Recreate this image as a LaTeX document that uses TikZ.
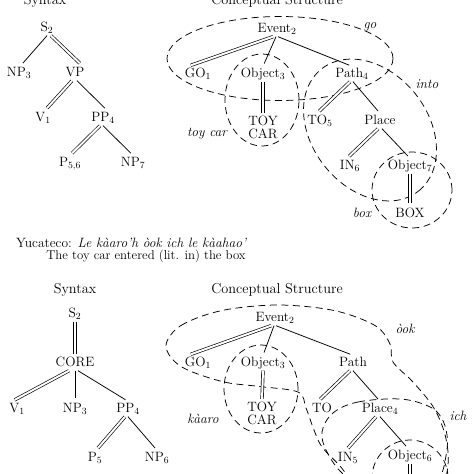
\documentclass[tikz,border=0pt]{standalone}
\newcommand{\sbs}[1]{\textsubscript{#1}}
\tikzset{
  nd/.style={font=\fontsize{13.5}{13}\selectfont, inner sep=1.5pt, text height=9.5pt, text depth=2.5pt},
  nd2/.style={font=\fontsize{13.5}{13}\selectfont, inner sep=1.5pt, align=center},
  hdr/.style={font=\fontsize{14.3}{16}\selectfont, inner sep=0pt, anchor=base},
  gls/.style={font=\fontsize{13.5}{14}\selectfont\itshape, inner sep=0pt, anchor=base},
  ttl/.style={inner sep=0pt, anchor=base},
  ln/.style={line width=0.75pt, shorten >=3pt},
  dbl/.style={ln, line width=0.65pt, double distance=2pt},
  dsh/.style={line width=0.75pt, dash pattern=on 7pt off 4.5pt},
}
\begin{document}
\begin{tikzpicture}[x=1pt,y=-1pt]
\useasboundingbox (0,0) rectangle (474,474);
\clip (0,0) rectangle (474,474);

% ---------------- top: headers
\node[hdr] (syna) at (45,4) {Syntax};
\node[hdr] (csa) at (277,4) {Conceptual Structure};

% top syntax
\node[nd] (s2a) at (47,28) {S\sbs{2}};
\node[nd] (np3a) at (19,73) {NP\sbs{3}};
\node[nd] (vpa) at (75,73) {VP};
\node[nd] (v1a) at (43,118) {V\sbs{1}};
\node[nd] (pp4a) at (103,118) {PP\sbs{4}};
\node[nd] (p56a) at (70,163) {P\sbs{5,6}};
\node[nd] (np7a) at (133,163) {NP\sbs{7}};

\draw[ln] (s2a.south) -- ([xshift=2pt]np3a.north);
\draw[dbl] ([xshift=4pt]s2a.south) -- ([xshift=7pt]vpa.north);
\draw[dbl] ([xshift=-3pt]vpa.south) -- ([xshift=2pt]v1a.north);
\draw[ln] ([xshift=2pt]vpa.south) -- ([xshift=4pt]pp4a.north);
\draw[dbl] ([xshift=-3pt]pp4a.south) -- (p56a.north);
\draw[ln] (pp4a.south) -- (np7a.north);

% top conceptual structure: ellipses
\draw[dsh] (280,58.5) ellipse [x radius=113pt, y radius=42pt];
\draw[dsh] (262,100) ellipse [x radius=37pt, y radius=46pt];
\draw[dsh, rotate around={-51.5:(370,130)}] (370,130) ellipse [x radius=78pt, y radius=58pt];
\draw[dsh] (412,190) ellipse [x radius=40pt, y radius=38pt];

\node[nd] (ev1) at (277,29) {Event\sbs{2}};
\node[nd] (go1) at (198,74) {GO\sbs{1}};
\node[nd] (ob3a) at (263,74) {Object\sbs{3}};
\node[nd] (pa4) at (352,74) {Path\sbs{4}};
\node[nd2] (toya) at (263,127) {TOY\\CAR};
\node[nd] (to5) at (320,121) {TO\sbs{5}};
\node[nd] (pla) at (380,121) {Place};
\node[nd] (in6) at (350,166) {IN\sbs{6}};
\node[nd] (ob7) at (410,166) {Object\sbs{7}};
\node[nd] (boxa) at (410,214) {BOX};

\draw[dbl] ([xshift=-4pt]ev1.south) -- ([xshift=-10pt]go1.north);
\draw[ln] ([xshift=-1pt]ev1.south) -- (ob3a.north);
\draw[ln] ([xshift=1pt]ev1.south) -- (pa4.north);
\draw[dbl, shorten >=1pt] (ob3a.south) -- (toya.north);
\draw[dbl] ([xshift=-2pt]pa4.south) -- ([xshift=-3pt]to5.north);
\draw[ln] ([xshift=1pt]pa4.south) -- (pla.north);
\draw[dbl] ([xshift=-2pt]pla.south) -- ([xshift=-3pt]in6.north);
\draw[ln] ([xshift=2pt]pla.south) -- (ob7.north);
\draw[dbl] (ob7.south) -- (boxa.north);

\node[gls] (lgo) at (370,28) {go};
\node[gls] (linto) at (427,88) {into};
\node[gls] (ltoy) at (207,136) {toy car};
\node[gls] (lbox) at (362,217) {box};

% ---------------- title
\node[ttl, font=\fontsize{13.5}{14}\selectfont] (t1) at (131.5,247) {Yucateco: \textit{Le kàaro’h òok ich le kàahao’}};
\node[ttl, font=\fontsize{12.8}{14}\selectfont] (t2) at (146,259) {The toy car entered (lit. in) the box};

% ---------------- bottom: headers
\node[hdr] (synb) at (75,293) {Syntax};
\node[hdr] (csb) at (277,293) {Conceptual Structure};

% bottom syntax
\node[nd] (s2b) at (75,314) {S\sbs{2}};
\node[nd] (coreb) at (75,363) {CORE};
\node[nd] (v1b) at (17,409) {V\sbs{1}};
\node[nd] (np3b) at (75,409) {NP\sbs{3}};
\node[nd] (pp4b) at (128,409) {PP\sbs{4}};
\node[nd] (p5b) at (95,458) {P\sbs{5}};
\node[nd] (np6b) at (157,458) {NP\sbs{6}};

\draw[dbl, shorten >=1pt] (s2b.south) -- (coreb.north);
\draw[dbl] ([xshift=-6pt]coreb.south) -- ([xshift=-5pt]v1b.north);
\draw[ln] (coreb.south) -- (np3b.north);
\draw[ln] ([xshift=3pt]coreb.south) -- (pp4b.north);
\draw[dbl] ([xshift=-3pt]pp4b.south) -- ([xshift=1pt]p5b.north);
\draw[ln] (pp4b.south) -- (np6b.north);

% bottom conceptual structure: dashed regions
\draw[dsh] plot[smooth cycle, tension=0.55] coordinates {
  (166,346) (181,325.5) (222,310.5) (278,305) (334,310.5) (375,325.5) (390,344)
  (393,362) (412,381) (432,405) (443,428) (448,452) (446,476) (432,500)
  (395,508) (360,490) (340,466) (322,447) (314,430) (306,408) (298,392)
  (258.6,386.4) (222,381.5) (181,366.5)};
\draw[dsh] (261,389) ellipse [x radius=37pt, y radius=44pt];
\draw[dsh] plot[smooth cycle, tension=0.6] coordinates {
  (333,413) (358,402) (400,399) (428,406) (441,417) (447,435) (446,456)
  (438,480) (412,500) (372,494) (343,474) (327,452) (322,432)};
\draw[dsh] (410,478) ellipse [x radius=38pt, y radius=38pt];

\node[nd] (ev2) at (275,318) {Event\sbs{2}};
\node[nd] (go2) at (198,363) {GO\sbs{1}};
\node[nd] (ob3b) at (263,363) {Object\sbs{3}};
\node[nd] (pab) at (353,363) {Path};
\node[nd2] (toyb) at (262,413) {TOY\\CAR};
\node[nd] (tob) at (322,409) {TO};
\node[nd] (pl4b) at (380,409) {Place\sbs{4}};
\node[nd] (in5b) at (348,458) {IN\sbs{5}};
\node[nd] (ob6b) at (410,456) {Object\sbs{6}};
\coordinate (ob6end) at (410,495);

\draw[dbl] ([xshift=-4pt]ev2.south) -- ([xshift=-10pt]go2.north);
\draw[ln] ([xshift=-1pt]ev2.south) -- (ob3b.north);
\draw[ln] ([xshift=1pt]ev2.south) -- (pab.north);
\draw[dbl, shorten >=1pt] (ob3b.south) -- (toyb.north);
\draw[dbl] ([xshift=-3pt]pab.south) -- ([xshift=-4pt]tob.north);
\draw[ln] (pab.south) -- (pl4b.north);
\draw[dbl] ([xshift=-4pt]pl4b.south) -- ([xshift=-2pt]in5b.north);
\draw[ln] (pl4b.south) -- ([xshift=-2pt]ob6b.north);
\draw[dbl, shorten >=0pt] (ob6b.south) -- (ob6end);

\node[gls] (look) at (405,333) {òok};
\node[gls] (lkaaro) at (203,423) {kàaro};
\node[gls] (lich) at (458,420) {ich};
\end{tikzpicture}
\end{document}
